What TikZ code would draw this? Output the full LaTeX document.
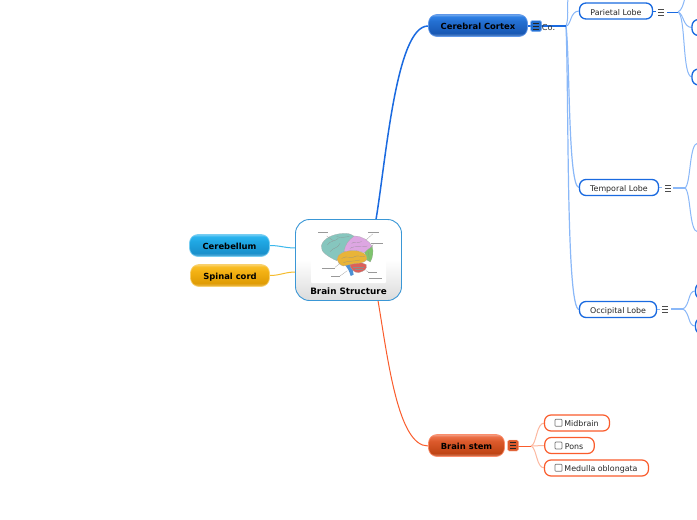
\documentclass[tikz,border=0pt]{standalone}
\usepackage{fontspec}
\setmainfont{DejaVu Sans}
\definecolor{cblue}{HTML}{1A6AE0}
\definecolor{lblue}{HTML}{8AB8F8}
\definecolor{corange}{HTML}{FA5C2C}
\definecolor{lorange}{HTML}{FCB8A0}
\definecolor{ccyan}{HTML}{3CB8EC}
\definecolor{camber}{HTML}{F5BC2E}
\definecolor{centre}{HTML}{3A97D6}
\newcommand{\glossy}[4]{% name, top, mid, bottom
  \pgfdeclareverticalshading{#1}{100bp}{
    color(0bp)=(#4!55!white); color(25bp)=(#4!55!white); color(28bp)=(#4!80!white);
    color(33bp)=(#4); color(60bp)=(#3); color(70bp)=(#2); color(73bp)=(#2!80!white);
    color(75bp)=(#2!65!white); color(100bp)=(#2!65!white)}}
\definecolor{bt}{HTML}{2F80E4}\definecolor{bm}{HTML}{2470D2}\definecolor{bb}{HTML}{1858B4}
\definecolor{ot}{HTML}{EC7048}\definecolor{om}{HTML}{DC5A2C}\definecolor{ob}{HTML}{C04414}
\definecolor{yt}{HTML}{2CB4EE}\definecolor{ym}{HTML}{20A8E4}\definecolor{yb}{HTML}{1890CC}
\definecolor{at}{HTML}{F8BE28}\definecolor{am}{HTML}{F4B214}\definecolor{ab}{HTML}{E09C04}
\glossy{glossblue}{bt}{bm}{bb}
\glossy{glossorange}{ot}{om}{ob}
\glossy{glosscyan}{yt}{ym}{yb}
\glossy{glossamber}{at}{am}{ab}
\tikzset{
  x=1pt,y=-1pt,
  topic/.style={draw=#1,line width=.7pt,rounded corners=8.5pt,inner sep=0pt,
    font=\fontsize{8.4}{10}\selectfont\bfseries,text=black,text height=7.4pt,text depth=0pt},
  sub/.style={draw=cblue,line width=1.3pt,fill=white,rounded corners=6.5pt,inner sep=0pt,
    minimum height=16pt,font=\fontsize{7.9}{10}\selectfont,text=black!85,text height=8pt,text depth=0pt},
  leaf/.style={draw=corange,line width=1.2pt,fill=white,rounded corners=6.5pt,inner sep=0pt,
    minimum height=16pt,font=\fontsize{7.9}{10}\selectfont,text=black!85,text height=7pt,text depth=0pt},
  menu/.style={rounded corners=1.5pt,inner sep=0pt,minimum width=#1,minimum height=11pt},
  branch/.style={line width=1pt},
  tiny/.style={black!40,line width=.25pt},
  gyrus/.style={black!45,line width=.2pt},
}
\newcommand{\threebars}[3]{%
  \draw[#3,line width=.75pt] (#1-3,#2-3) -- (#1+3,#2-3) (#1-3,#2) -- (#1+3,#2) (#1-3,#2+3) -- (#1+3,#2+3);}
\newcommand{\tickbox}[2]{\draw[black!55,line width=.7pt,fill=white,rounded corners=.8pt] (#1-3.5,#2-3.5) rectangle (#1+3.5,#2+3.5);}
\begin{document}
\begin{tikzpicture}
\useasboundingbox (0,0) rectangle (697,520);
\clip (0,0) rectangle (697,520);
\fill[white] (0,0) rectangle (697,520);

% junctions and free ends
\coordinate (cj) at (566,26);
\coordinate (pj) at (678,12);
\coordinate (tj) at (685,188);
\coordinate (oj) at (683,309);
\coordinate (sj) at (531,446);
\coordinate (topout) at (568,-2);
\coordinate (ptop) at (685,-2);
\coordinate (ttop) at (698,143);
\coordinate (tbot) at (698,232);
\coordinate (rootN) at (376,219.5);
\coordinate (rootS) at (378,300.5);
\coordinate (rootWa) at (295.5,248);
\coordinate (rootWb) at (295.5,272);
\coordinate (cortexW) at (428,26);
\coordinate (stemW) at (428,446);

% main connectors
\draw[cblue,line width=1.5pt] (rootN) .. controls (386,160) and (396,26) .. (cortexW);
\draw[corange,line width=1pt] (rootS) .. controls (388,360) and (398,446) .. (stemW);
\draw[ccyan,line width=1pt] (270,245.5) .. controls (280,245.5) and (285,248) .. (rootWa);
\draw[camber,line width=1pt] (270,275.5) .. controls (280,275.5) and (285,272) .. (rootWb);

% cortex branches
\draw[lblue,branch] (cj) .. controls (569,18) and (567,8) .. (topout);
\draw[lblue,branch] (cj) .. controls (571,26) and (570,11) .. (579,11);
\draw[lblue,line width=1.2pt] (cj) .. controls (570,60) and (568,187) .. (579,187.5);
\draw[lblue,line width=1.2pt] (cj) .. controls (569,100) and (566,309) .. (579,309.5);
\draw[cblue,line width=1.6pt] (528,26) -- (cj);

% parietal branches
\draw[lblue,branch] (pj) .. controls (682,10) and (683,5) .. (ptop);
\draw[lblue,branch] (pj) .. controls (684,14) and (683,27.5) .. (692,27.5);
\draw[lblue,branch] (pj) .. controls (686,16) and (682,77) .. (692,77);
\draw[cblue,line width=.8pt] (652,11) -- (656,11);
\draw[cblue,line width=1pt] (667,12) -- (pj);

% temporal branches
\draw[lblue,branch] (tj) .. controls (691,184) and (689,143) .. (ttop);
\draw[lblue,branch] (tj) .. controls (691,192) and (689,232) .. (tbot);
\draw[lblue,line width=.8pt] (658,187.5) -- (662,187.5);
\draw[lblue,line width=1.2pt] (673,188) -- (tj);

% occipital branches
\draw[lblue,branch] (oj) .. controls (690,305) and (688,291) .. (695,291);
\draw[lblue,branch] (oj) .. controls (690,313) and (688,326) .. (695,326);
\draw[lblue,line width=.8pt] (656,309.5) -- (660,309.5);
\draw[lblue,line width=1.2pt] (671,309) -- (oj);

% brain stem branches
\draw[lorange,branch] (sj) .. controls (537,444) and (536,423) .. (544.5,423);
\draw[lorange,branch] (sj) -- (544.5,445.5);
\draw[lorange,branch] (sj) .. controls (537,448) and (536,468) .. (544.5,468);
\draw[corange,line width=1pt] (518,446) -- (sj);

% nodes
\node[draw=centre,line width=.9pt,rounded corners=14pt,minimum width=106pt,minimum height=81pt,
  inner sep=0pt,top color=white,bottom color=black!14,middle color=white] (root) at (348.5,260) {};
\node[topic=cblue!70!white,shading=glossblue,minimum width=99pt,minimum height=22pt] (cortex) at (478,25.5) {Cerebral Cortex};
\node[topic=corange!70!white,shading=glossorange,minimum width=76pt,minimum height=22pt] (stem) at (466.5,445.5) {Brain stem};
\node[topic=ccyan!70!white,shading=glosscyan,minimum width=80pt,minimum height=22pt] (cerebellum) at (229.5,245.5) {Cerebellum};
\node[topic=camber!70!white,shading=glossamber,minimum width=79pt,minimum height=22pt] (spinal) at (230,275.5) {Spinal cord};

\node[sub,minimum width=73pt] (parietal) at (616,11) {Parietal Lobe};
\node[sub,minimum width=79pt] (temporal) at (619,187.5) {Temporal Lobe};
\node[sub,minimum width=77pt] (occipital) at (618,309.5) {Occipital Lobe};

% nodes cut by the right edge
\node[sub,minimum width=20pt] (pa) at (702,27.5) {};
\node[sub,minimum width=20pt] (pb) at (702,77) {};
\node[sub,minimum width=20pt] (oa) at (705.5,291) {};
\node[sub,minimum width=20pt] (ob) at (705.5,326) {};

\node[leaf,minimum width=65pt] (midbrain) at (577,423) {\hspace{9pt}Midbrain};
\node[leaf,minimum width=49.5pt] (pons) at (569.5,445.5) {\hspace{9pt}Pons};
\node[leaf,minimum width=104pt] (medulla) at (596.5,468) {\hspace{9pt}Medulla oblongata};

% markers
\node[menu=11pt,fill=bm,draw=lblue,line width=.4pt] (cmenu) at (536,26) {};
\threebars{536}{26}{black!85}
\draw[cblue,line width=1.6pt] (541.5,26) -- (cj);
\node[font=\fontsize{8.2}{10}\selectfont,text=black!80,inner sep=0pt,text height=8pt,text depth=0pt] (co) at (548.5,26.5) {Co.};
\node[menu=11pt,fill=om,draw=lorange,line width=.4pt] (smenu) at (513,445.5) {};
\threebars{513}{445.5}{black!85}
\threebars{661}{12}{black!70}
\threebars{668}{188}{black!70}
\threebars{665}{309}{black!70}
\tickbox{558.5}{422.8}
\tickbox{558.5}{445.5}
\tickbox{558.5}{467.8}

% picture inside the central node
\fill[white,rounded corners=1pt] (311,225) rectangle (386,283);
\node[font=\fontsize{8.8}{10}\selectfont\bfseries,inner sep=0pt] (rootlabel) at (348.5,291) {Brain Structure};
\begin{scope}[shift={(290,210)},x=.3333pt,y=-.3333pt]
  \definecolor{teal1}{HTML}{86C6BE}\definecolor{pink1}{HTML}{DDA6E2}\definecolor{green1}{HTML}{7EC46E}
  \definecolor{yel1}{HTML}{E8B438}\definecolor{red1}{HTML}{DC605A}\definecolor{blue1}{HTML}{4C90D4}
  \fill[blue1] (160,160) .. controls (172,172) and (178,182) .. (182,198) -- (191,194) .. controls (188,178) and (186,168) .. (182,160) -- cycle;
  \fill[teal1,draw=black!35,line width=.2pt] (94,108) .. controls (98,86) and (130,70) .. (165,70) .. controls (178,70) and (186,74) .. (193,79) .. controls (176,92) and (166,105) .. (162,125) .. controls (150,130) and (142,140) .. (140,152) .. controls (118,142) and (90,126) .. (94,108) -- cycle;
  \fill[pink1,draw=black!35,line width=.2pt] (193,78) .. controls (216,78) and (238,92) .. (247,110) .. controls (238,115) and (230,120) .. (224,128) .. controls (205,120) and (180,120) .. (162,126) .. controls (165,105) and (175,90) .. (193,78) -- cycle;
  \fill[green1,draw=black!35,line width=.2pt] (247,110) .. controls (251,125) and (249,142) .. (241,156) .. controls (235,151) and (228,150) .. (224,146) .. controls (228,138) and (226,132) .. (224,128) .. controls (230,120) and (238,115) .. (247,110) -- cycle;
  \fill[red1,draw=black!35,line width=.2pt] (178,160) .. controls (195,156) and (215,156) .. (229,164) .. controls (233,176) and (222,185) .. (205,188) .. controls (192,188) and (182,178) .. (178,160) -- cycle;
  \fill[yel1,draw=black!35,line width=.2pt] (141,148) .. controls (142,130) and (165,122) .. (190,122) .. controls (215,122) and (232,132) .. (231,146) .. controls (229,155) and (218,158) .. (205,160) .. controls (190,160) and (175,165) .. (160,168) .. controls (150,165) and (142,158) .. (141,148) -- cycle;
  % folds of the cortex
  \draw[gyrus] (112,105) .. controls (122,90) and (135,95) .. (145,85) (120,125) .. controls (130,112) and (145,115) .. (150,100) (140,80) .. controls (155,85) and (165,80) .. (178,80);
  \draw[gyrus] (185,100) .. controls (195,92) and (205,100) .. (215,95) (180,115) .. controls (195,105) and (210,115) .. (232,108);
  \draw[gyrus] (155,145) .. controls (170,135) and (185,148) .. (200,138) .. controls (210,135) and (218,142) .. (225,140) (160,158) .. controls (175,152) and (190,155) .. (210,150);
  \draw[gyrus] (190,170) -- (222,170) (195,178) -- (218,178);
  \draw[gyrus] (235,125) -- (238,148);
  % pointer lines and small captions, too small to read
  \draw[tiny] (110,78) -- (130,92);
  \draw[tiny] (85,66) -- (115,66);
  \draw[tiny] (248,72) -- (228,90);
  \draw[tiny] (234,66) -- (266,66);
  \draw[tiny] (250,103) -- (238,118);
  \draw[tiny] (242,100) -- (278,100);
  \draw[tiny] (135,172) -- (150,160);
  \draw[tiny] (96,175) -- (135,175);
  \draw[tiny] (150,198) -- (172,182);
  \draw[tiny] (124,198) -- (150,198);
  \draw[tiny] (228,182) -- (235,186);
  \draw[tiny] (235,186) -- (262,186);
  \draw[tiny] (238,205) -- (276,205);
\end{scope}
\end{tikzpicture}
\end{document}
